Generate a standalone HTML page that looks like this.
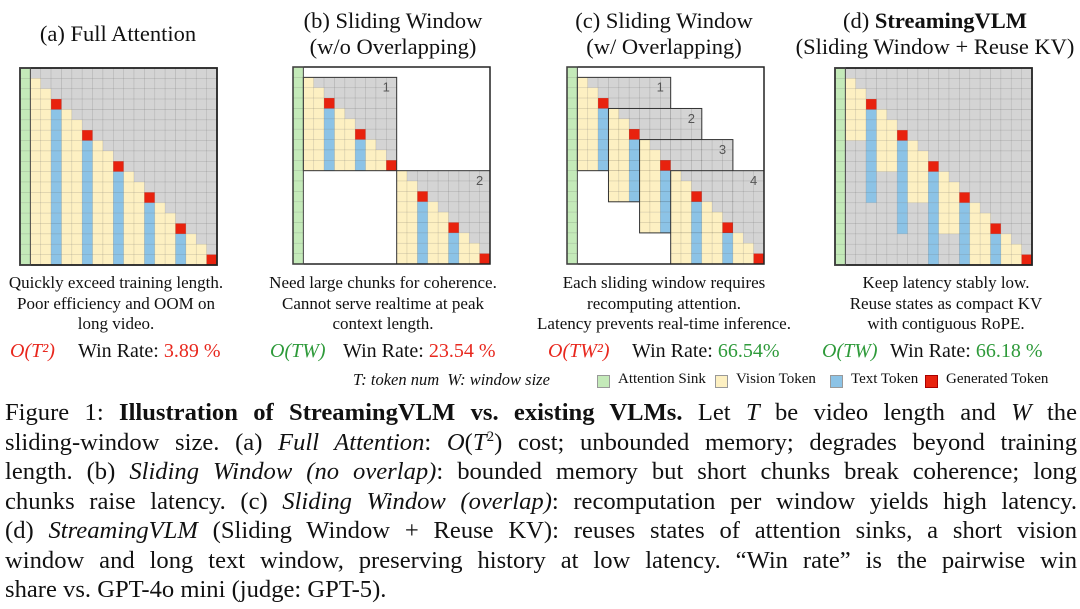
<!DOCTYPE html>
<html><head><meta charset="utf-8">
<style>
body{margin:0;width:1080px;height:609px;background:#fff;position:relative;overflow:hidden;font-family:"Liberation Serif",serif;color:#111}
.t{position:absolute;white-space:nowrap}
.c{transform:translateX(-50%);text-align:center}
.title{font-size:22.5px;line-height:26px}
.desc{font-size:17px;line-height:20.7px}
.cx{font-size:20px;font-style:italic}
.wr{font-size:20px}
.red{color:#e8281e}.grn{color:#2e9a3a}
.lg{font-size:15px}
.sq{position:absolute;width:11px;height:11px;border:1px solid #999}
.cap{position:absolute;left:5px;width:1072px;font-size:24.6px;text-align:justify;text-align-last:justify;white-space:nowrap}
.cap span.j{display:block}
</style></head><body>
<svg id="g" width="1080" height="300" style="position:absolute;left:0;top:0"></svg>

<div class="t c title" style="left:118px;top:21px">(a) Full Attention</div>
<div class="t c title" style="left:393px;top:8px">(b) Sliding Window<br>(w/o Overlapping)</div>
<div class="t c title" style="left:664px;top:8px">(c) Sliding Window<br>(w/ Overlapping)</div>
<div class="t c title" style="left:935px;top:8px">(d) <b>StreamingVLM</b><br>(Sliding Window + Reuse KV)</div>

<div class="t c desc" style="left:116px;top:273px">Quickly exceed training length.<br>Poor efficiency and OOM on<br>long video.</div>
<div class="t c desc" style="left:383px;top:273px">Need large chunks for coherence.<br>Cannot serve realtime at peak<br>context length.</div>
<div class="t c desc" style="left:664px;top:273px">Each sliding window requires<br>recomputing attention.<br>Latency prevents real-time inference.</div>
<div class="t c desc" style="left:946px;top:273px">Keep latency stably low.<br>Reuse states as compact KV<br>with contiguous RoPE.</div>

<div class="t cx red" style="left:10px;top:340px">O(T²)</div>
<div class="t wr" style="left:78px;top:340px">Win Rate: <span class="red">3.89 %</span></div>
<div class="t cx grn" style="left:270px;top:340px">O(TW)</div>
<div class="t wr" style="left:343px;top:340px">Win Rate: <span class="red">23.54 %</span></div>
<div class="t cx red" style="left:548px;top:340px">O(TW²)</div>
<div class="t wr" style="left:632px;top:340px">Win Rate: <span class="grn">66.54%</span></div>
<div class="t cx grn" style="left:822px;top:340px">O(TW)</div>
<div class="t wr" style="left:890px;top:340px">Win Rate: <span class="grn">66.18 %</span></div>

<div class="t lg" style="left:353px;top:370px;font-style:italic;font-size:16.5px">T: token num&nbsp; W: window size</div>
<div class="sq" style="left:597px;top:375px;background:#c4eab9"></div><div class="t lg" style="left:618px;top:371px">Attention Sink</div>
<div class="sq" style="left:715px;top:375px;background:#fdf0c2"></div><div class="t lg" style="left:736px;top:371px">Vision Token</div>
<div class="sq" style="left:830px;top:375px;background:#8cc3e6"></div><div class="t lg" style="left:851px;top:371px">Text Token</div>
<div class="sq" style="left:925px;top:375px;background:#e8220e;border-color:#a00"></div><div class="t lg" style="left:946px;top:371px">Generated Token</div>

<div class="cap" style="top:399px"><span class="j">Figure 1: <b>Illustration of StreamingVLM vs. existing VLMs.</b> Let <i>T</i> be video length and <i>W</i> the</span></div>
<div class="cap" style="top:428.5px"><span class="j">sliding-window size. (a) <i>Full Attention</i>: <i>O</i>(<i>T</i><sup style="font-size:15px">2</sup>) cost; unbounded memory; degrades beyond training</span></div>
<div class="cap" style="top:458px"><span class="j">length. (b) <i>Sliding Window (no overlap)</i>: bounded memory but short chunks break coherence; long</span></div>
<div class="cap" style="top:487.5px"><span class="j">chunks raise latency. (c) <i>Sliding Window (overlap)</i>: recomputation per window yields high latency.</span></div>
<div class="cap" style="top:517px"><span class="j">(d) <i>StreamingVLM</i> (Sliding Window + Reuse KV): reuses states of attention sinks, a short vision</span></div>
<div class="cap" style="top:546.5px"><span class="j">window and long text window, preserving history at low latency. “Win rate” is the pairwise win</span></div>
<div class="cap" style="top:576px;text-align-last:left;width:auto">share vs. GPT-4o mini (judge: GPT-5).</div>

<script>
const NS="http://www.w3.org/2000/svg",g=document.getElementById('g');
const S=197/19;
const C={g:'#d4d4d4',y:'#fdf0c2',b:'#8cc3e6',r:'#e8220e',s:'#c4eab9',w:'#ffffff'};
function rect(x,y,w,h,f,st,sw){const r=document.createElementNS(NS,'rect');r.setAttribute('x',x);r.setAttribute('y',y);r.setAttribute('width',w);r.setAttribute('height',h);r.setAttribute('fill',f);if(st){r.setAttribute('stroke',st);r.setAttribute('stroke-width',sw||1)}g.appendChild(r);return r}
function text(x,y,s){const t=document.createElementNS(NS,'text');t.setAttribute('x',x);t.setAttribute('y',y);t.setAttribute('font-family','Liberation Sans,sans-serif');t.setAttribute('font-size','13');t.setAttribute('fill','#555');t.textContent=s;g.appendChild(t)}
function cell(ox,oy,r,c,f){rect(ox+c*S,oy+r*S,S,S,f,'rgba(0,0,0,0.12)',0.6)}
function tri(i,j){ if(j>i) return C.g; if(j%3==2){return i==j?C.r:C.b} return C.y;}
function panelA(ox,oy){for(let r=0;r<19;r++)for(let c=0;c<19;c++){let f;if(c==0)f=C.s;else if(r==0)f=C.g;else f=tri(r-1,c-1);cell(ox,oy,r,c,f)}rect(ox,oy,197,197,'none','#222',1.8);rect(ox,oy,S,197,'none','#444',1)}
panelA(20,68);
function panelD(ox,oy){for(let r=0;r<19;r++)for(let c=0;c<19;c++){let f;if(c==0)f=C.s;else if(r==0)f=C.g;else{f=tri(r-1,c-1);const k=Math.floor((c-1)/3);if(f==C.y&&r>3*k+6)f=C.g;if(f==C.b&&r>3*k+12)f=C.g;}cell(ox,oy,r,c,f)}rect(ox,oy,197,197,'none','#222',1.8);rect(ox,oy,S,197,'none','#444',1)}
panelD(835,68);
function chunk(ox,oy,r0,c0,n,label){for(let i=0;i<n;i++)for(let j=0;j<n;j++)cell(ox,oy,r0+i,c0+j,tri(i,j));rect(ox+c0*S,oy+r0*S,n*S,n*S,'none','#333',1);text(ox+(c0+n)*S-14,oy+(r0+1)*S+4,label)}
function frame(ox,oy){rect(ox,oy,197,197,C.w);for(let r=0;r<19;r++)cell(ox,oy,r,0,C.s)}
frame(293,67);
chunk(293,67,1,1,9,'1');chunk(293,67,10,10,9,'2');
rect(293,67,197,197,'none','#222',1.5);rect(293,67,S,197,'none','#444',1);
frame(567,67);
chunk(567,67,1,1,9,'1');chunk(567,67,4,4,9,'2');chunk(567,67,7,7,9,'3');chunk(567,67,10,10,9,'4');
rect(567,67,197,197,'none','#222',1.5);rect(567,67,S,197,'none','#444',1);
</script>
</body></html>
